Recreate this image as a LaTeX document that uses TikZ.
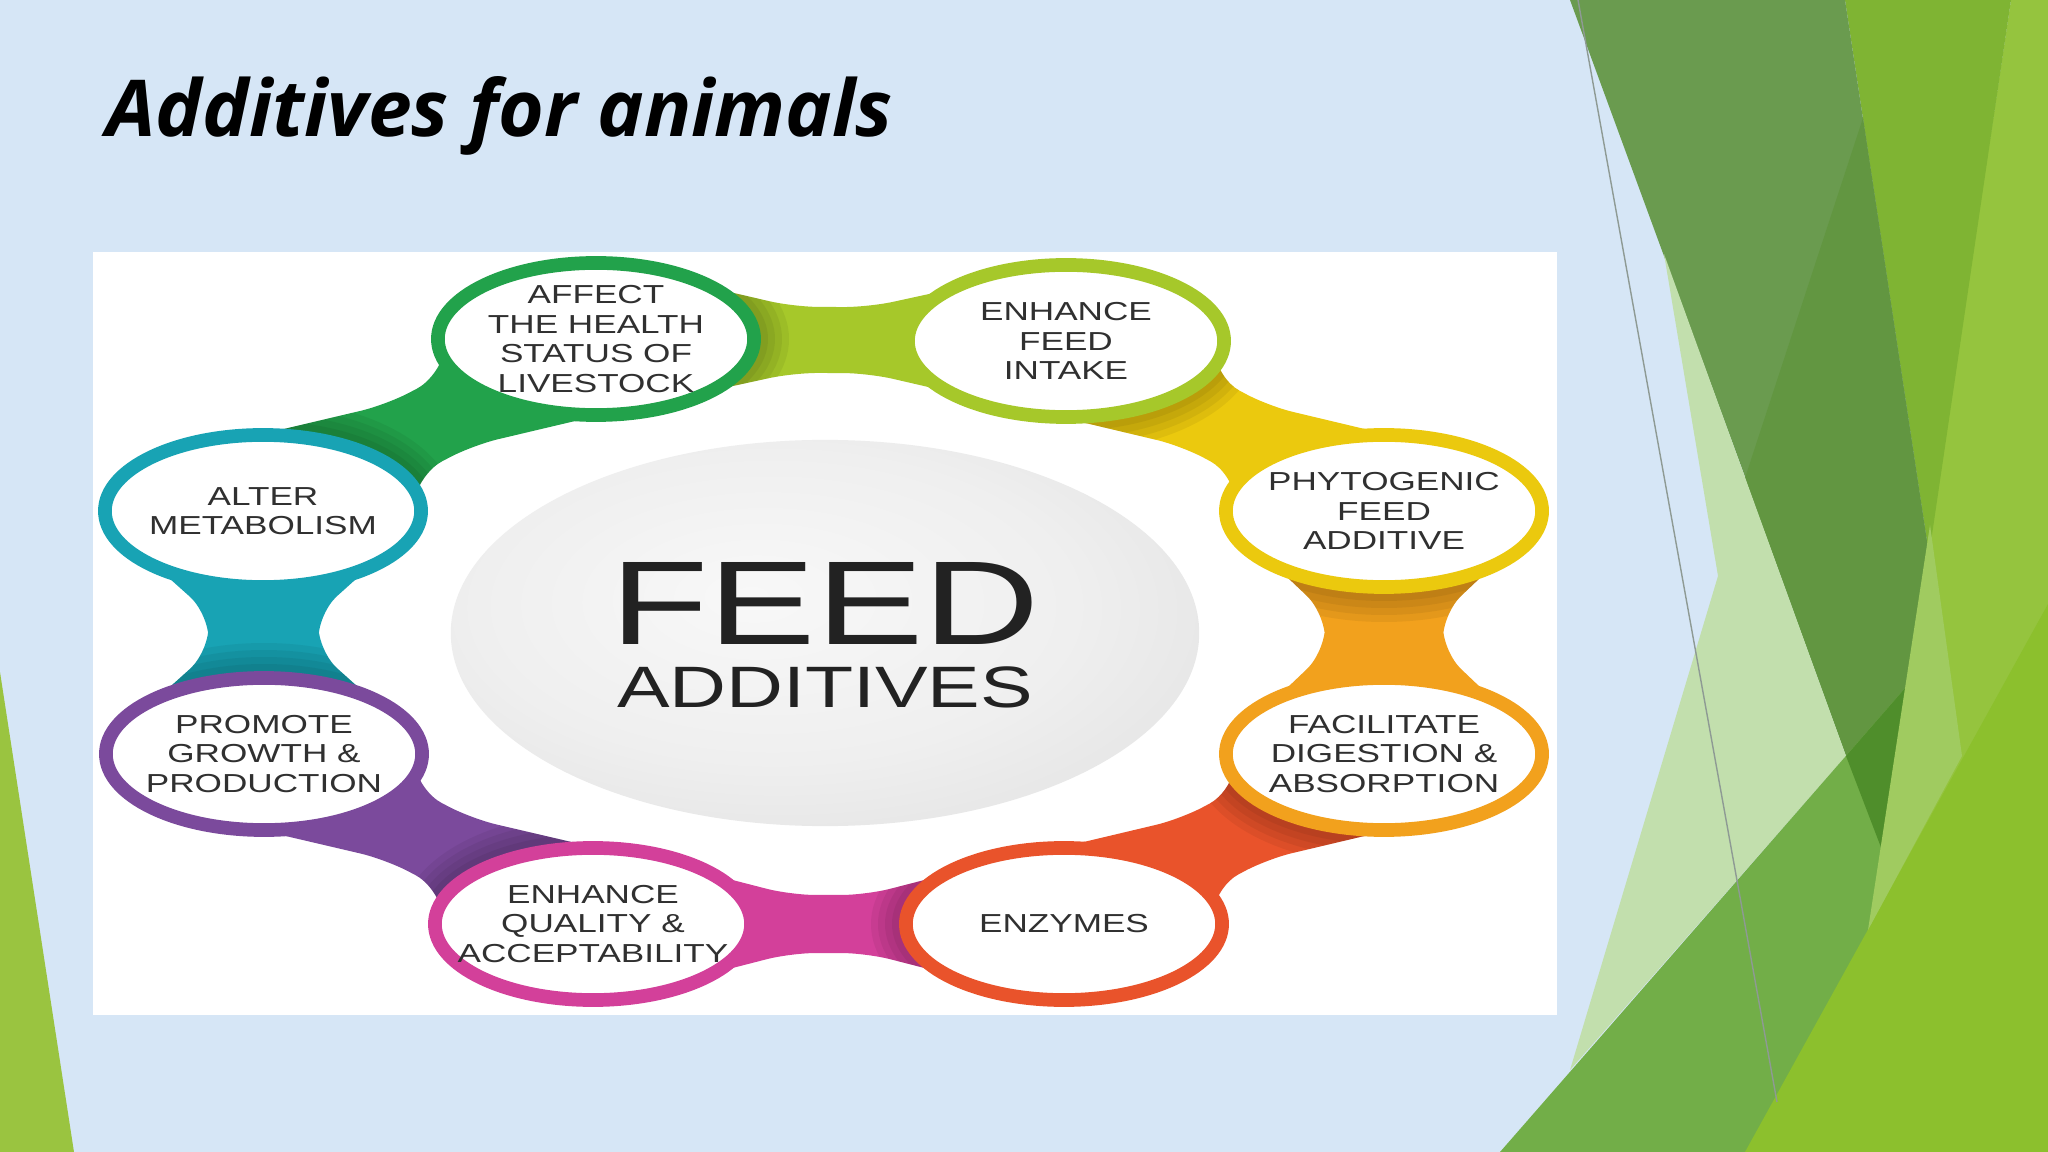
\documentclass[tikz,border=0pt]{standalone}
\usepackage{fontspec}
\setmainfont{Liberation Sans}
\newfontfamily\titlefont{Open Sans}
\newfontfamily\ringfont[FakeStretch=1.35]{Liberation Sans}
\usetikzlibrary{shapes.geometric, calc}

\definecolor{pagebg}{HTML}{D6E6F6}
\definecolor{leafleft}{HTML}{9AC440}
\definecolor{leafdark}{HTML}{6A9B4F}
\definecolor{leafdarker}{HTML}{629641}
\definecolor{leafdeep}{HTML}{4F8E2B}
\definecolor{leafmid}{HTML}{7FB433}
\definecolor{leafbright}{HTML}{95C43E}
\definecolor{leaflow}{HTML}{72AE48}
\definecolor{leaflime}{HTML}{8CC02D}
\definecolor{leafpale}{HTML}{A0CB60}
\definecolor{leafmist}{HTML}{C2DFAD}
\definecolor{seamgray}{HTML}{8E9A94}
\definecolor{affgreen}{HTML}{22A24B}
\definecolor{intlime}{HTML}{A6C82A}
\definecolor{phyyellow}{HTML}{EBC90E}
\definecolor{digorange}{HTML}{F2A11D}
\definecolor{enzred}{HTML}{E9532B}
\definecolor{quamagenta}{HTML}{D3409A}
\definecolor{propurple}{HTML}{7B4A9C}
\definecolor{altteal}{HTML}{18A3B4}
\definecolor{ringink}{HTML}{303030}
\definecolor{hubink}{HTML}{222222}
\definecolor{hubA}{HTML}{F8F8F8}
\definecolor{hubB}{HTML}{EFEFEF}
\definecolor{hubC}{HTML}{DCDCDC}
\definecolor{hubD}{HTML}{C6C6C6}

\pgfdeclareradialshading{hubshade}{\pgfpoint{-5bp}{5bp}}{color(0bp)=(hubA); color(20bp)=(hubB); color(42bp)=(hubC); color(52bp)=(hubD); color(62bp)=(hubD)}

\tikzset{
  ring/.style={ellipse, draw=#1, line width=3.9pt, fill=white, minimum width=3.16cm, minimum height=1.52cm, inner sep=0pt},
  ringtext/.style={align=center, text=ringink, inner sep=0pt, font=\ringfont\fontsize{7.4}{8.4}\selectfont},
  hub/.style={ellipse, minimum width=7.48cm, minimum height=3.86cm, inner sep=0pt, shade, shading=hubshade},
}

% outline of a bridge: from, to, direction, half waist
\newcommand{\necktrack}[4]{%
  ($(#1)+({#3+59}:150 and 70)$)
  -- ($(#1)!0.42!(#2)!#4!-90:(#2)$)
  -- ($(#1)!0.58!(#2)!#4!-90:(#2)$)
  -- ($(#2)+({#3+121}:150 and 70)$)
  -- ($(#2)+({#3+239}:150 and 70)$)
  -- ($(#1)!0.58!(#2)!#4!90:(#2)$)
  -- ($(#1)!0.42!(#2)!#4!90:(#2)$)
  -- ($(#1)+({#3-59}:150 and 70)$)
  -- cycle}
% bridge with a soft shade where it slips under the next ring
\newcommand{\neck}[5]{%
  \fill[#3, rounded corners=0.25cm] \necktrack{#1}{#2}{#4}{#5};
  \begin{scope}
    \clip[rounded corners=0.25cm] \necktrack{#1}{#2}{#4}{#5};
    \foreach \grow in {28,21,14,7}
      \fill[black, opacity=0.055] (#2) ellipse [x radius=165+\grow, y radius=83+\grow];
  \end{scope}}

\begin{document}
\begin{tikzpicture}[x=0.01cm, y=-0.01cm]
\useasboundingbox (0,0) rectangle (2048,1152);
% slide background
\fill[pagebg] (0,0) rectangle (2048,1152);
\fill[leafleft] (0,672) -- (0,1152) -- (74,1152) -- cycle;
\fill[leafbright] (2011,0) -- (2048,0) -- (2048,1152) -- (1837,1152) -- cycle;
\fill[leafmid] (1845,0) -- (2011,0) -- (1929,555) -- cycle;
\fill[leafdark] (1570,0) -- (1845,0) -- (1929,555) -- (1882,850) -- cycle;
\fill[leafdarker] (1863,118) -- (1745,478) -- (1846,756) -- (1907,686) -- (1929,555) -- cycle;
\fill[leafmist] (1664,254) -- (1718,576) -- (1570,1070) -- (1846,756) -- cycle;
\fill[leaflow] (1500,1152) -- (1907,686) -- (1837,1152) -- cycle;
\fill[leafdeep] (1846,756) -- (1907,686) -- (1882,850) -- cycle;
\fill[leaflime] (1745,1152) -- (2048,604) -- (2048,1152) -- cycle;
\fill[leafpale] (1930,525) -- (1962,756) -- (1868,930) -- cycle;
\draw[seamgray, line width=0.4pt] (1578,0) -- (1777,1102);
% picture panel
\fill[white] (93,252) rectangle (1557,1015);

\node (title) at (106,137) [anchor=base west, inner sep=0pt, font=\titlefont\bfseries\itshape\fontsize{22.3}{26}\selectfont] {Additives for animals};

% ring centres
\coordinate (aff) at (596,339);
\coordinate (int) at (1066,341);
\coordinate (phy) at (1384,511);
\coordinate (dig) at (1384,754);
\coordinate (enz) at (1064,924);
\coordinate (qua) at (593,924);
\coordinate (pro) at (264,754);
\coordinate (alt) at (263,511);

% bridges
\neck{aff}{alt}{affgreen}{133}{0.38cm}
\neck{alt}{pro}{altteal}{90}{0.55cm}
\neck{pro}{qua}{propurple}{47}{0.38cm}
\neck{qua}{enz}{quamagenta}{0}{0.29cm}
\neck{enz}{dig}{enzred}{-48}{0.38cm}
\neck{dig}{phy}{digorange}{-90}{0.59cm}
\neck{phy}{int}{phyyellow}{-132}{0.38cm}
\neck{int}{aff}{intlime}{180}{0.33cm}

% rings
\node (aff-ring) at (aff) [ring=affgreen] {};
\node (int-ring) at (int) [ring=intlime] {};
\node (phy-ring) at (phy) [ring=phyyellow] {};
\node (dig-ring) at (dig) [ring=digorange] {};
\node (enz-ring) at (enz) [ring=enzred] {};
\node (qua-ring) at (qua) [ring=quamagenta] {};
\node (pro-ring) at (pro) [ring=propurple] {};
\node (alt-ring) at (alt) [ring=altteal] {};

\node (aff-txt) at (aff) [ringtext] {AFFECT\\THE HEALTH\\STATUS OF\\LIVESTOCK};
\node (int-txt) at (int) [ringtext] {ENHANCE\\FEED\\INTAKE};
\node (phy-txt) at (phy) [ringtext] {PHYTOGENIC\\FEED\\ADDITIVE};
\node (dig-txt) at (dig) [ringtext] {FACILITATE\\DIGESTION \&\\ABSORPTION};
\node (enz-txt) at (enz) [ringtext] {ENZYMES};
\node (qua-txt) at (qua) [ringtext] {ENHANCE\\QUALITY \&\\ACCEPTABILITY};
\node (pro-txt) at (pro) [ringtext] {PROMOTE\\GROWTH \&\\PRODUCTION};
\node (alt-txt) at (alt) [ringtext] {ALTER\\METABOLISM};

% centre
\node (hub) at (825,633) [hub] {};
\node (hub-txt) at (825,635) [align=center, inner sep=0pt, text=hubink, font=\ringfont\fontsize{16.6}{18}\selectfont] {{\fontsize{33.9}{34}\selectfont FEED}\\ADDITIVES};
\end{tikzpicture}
\end{document}
